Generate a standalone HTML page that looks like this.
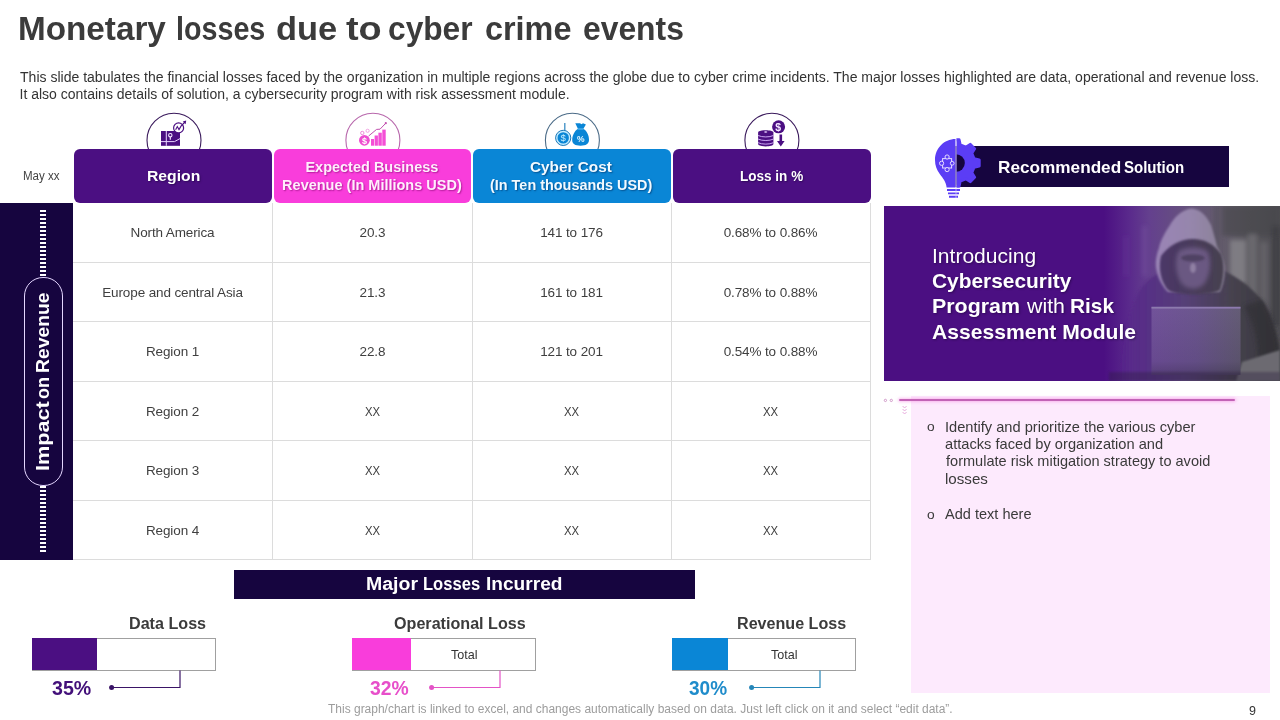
<!DOCTYPE html>
<html lang="en">
<head>
<meta charset="utf-8">
<title>Monetary losses due to cyber crime events</title>
<style>
*{margin:0;padding:0;box-sizing:border-box}
html,body{width:1280px;height:720px;overflow:hidden;background:#fff}
body{position:relative;font-family:"Liberation Sans",Arial,sans-serif;color:#3a3a3a}
.abs{position:absolute}
.t{position:absolute;white-space:nowrap;line-height:1;transform-origin:0 50%}
.c{position:absolute;white-space:nowrap;line-height:1;text-align:center;transform-origin:50% 50%}
#title{left:0;top:11px;width:700px;height:36px;font-size:32.5px;font-weight:700;color:#3b3b3b;line-height:36px}
.sub{font-size:14px;color:#333;line-height:16px;left:20px}
/* table */
.hd{position:absolute;top:149px;height:54px;border-radius:6px;color:#fff;font-weight:700;font-size:15.5px;text-align:center;text-shadow:1px 1px 2px rgba(0,0,0,.45)}
.hd span{position:absolute;left:0;right:0;white-space:nowrap;line-height:18px}
.vl{position:absolute;top:203px;height:357px;width:1px;background:#dcdcdc}
.hl{position:absolute;left:73px;width:798px;height:1px;background:#dcdcdc}

.cell{position:absolute;width:199px;text-align:center;font-size:13.5px;letter-spacing:-.12px;margin-top:1.3px;color:#3f3f3f;line-height:16px;white-space:nowrap}

.dash{background:repeating-linear-gradient(to bottom,#fff 0,#fff 2px,transparent 2px,transparent 4px)}
.intro{font-size:19.3px;color:#fff;text-shadow:1px 1px 2px rgba(20,0,40,.45)}
.bl{font-size:15px;color:#3a3a3a}
.bo{font-size:12px;color:#3a3a3a;transform:scaleX(1.15)}
.lt{font-size:16px;font-weight:700;color:#3b3b3b;top:616.06px}
.mj{font-size:18.3px;font-weight:700;color:#fff;top:575.21px}
.bar{position:absolute;top:638px;width:184px;height:32.6px;border:1px solid #a0a0a0;background:#fff}
.bar i{position:absolute;left:-1px;top:-.6px;bottom:-.6px;display:block}
.tot{font-size:12.2px;color:#333;top:649.3px;transform:scaleX(1.032)}
.pct{font-size:19.3px;font-weight:700;top:678.66px}
#title span{position:absolute;top:0;display:block;white-space:pre;transform-origin:0 50%}
.ht{font-size:14.5px;font-weight:700;color:#fff;text-shadow:1px 1px 1.5px rgba(30,0,60,.55)}
.hp{color:#ffeefc;text-shadow:1px 1px 1.5px rgba(120,0,100,.55)}
.hb{color:#f2faff;text-shadow:1px 1px 1.5px rgba(0,40,90,.55)}
#side span{position:absolute;top:0;display:block;white-space:pre;transform-origin:0 50%}
</style>
</head>
<body>
<div id="title" class="t"><span style="left:18.05px;transform:scaleX(1.0232)">Monetary </span><span style="left:176.1px;transform:scaleX(.8827)">losses </span><span style="left:275.84px;transform:scaleX(1.0589)">due </span><span style="left:345.9px;transform:scaleX(1.1655)">to </span><span style="left:388.3px;transform:scaleX(.9753)">cyber </span><span style="left:485.1px;transform:scaleX(.9965)">crime </span><span style="left:583.4px;transform:scaleX(.9792)">events</span></div>
<div class="t sub" id="s1" style="top:69px;left:20.3px;transform:scaleX(1.0023)">This slide tabulates the financial losses faced by the organization in multiple regions across the globe due to cyber crime incidents. The major losses highlighted are data, operational and revenue loss.</div>
<div class="t sub" id="s2" style="top:85.5px;left:19.5px">It also contains details of solution, a cybersecurity program with risk assessment module.</div>

<!-- icon rings -->
<svg class="abs" style="left:140px;top:108px" width="670" height="60" viewBox="140 108 670 60">
<g fill="#fff" stroke-width="1.1">
<circle cx="174" cy="140.3" r="27" stroke="#3a1a5c"/>
<circle cx="372.9" cy="140.3" r="27" stroke="#b868ac"/>
<circle cx="572.4" cy="140.3" r="27" stroke="#4c6c88"/>
<circle cx="771.9" cy="140.3" r="27" stroke="#3a1a5c"/>
</g>
<!-- icon 1: map + pin + trend -->
<g>
<rect x="161" y="131" width="19" height="14.8" fill="#4b0f82"/>
<path d="M166.3 131V145.8M161 141.6H174.5L180 138.6" fill="none" stroke="#e9d4ff" stroke-width="1"/>
<circle cx="170.3" cy="135.2" r="1.7" fill="none" stroke="#f3e6ff" stroke-width="1.1"/>
<path d="M170.3 137V139.8" stroke="#f3e6ff" stroke-width="1.2"/>
<circle cx="178.6" cy="127.9" r="5" fill="#fff" stroke="#4b0f82" stroke-width="1.2"/>
<path d="M175.6 129.8L177.3 126.6L179 129.6L181 126.2L185 122" fill="none" stroke="#4b0f82" stroke-width="1.1"/>
<path d="M186.2 120.6L185.6 124.2L182.8 121.4Z" fill="#4b0f82"/>
</g>
<!-- icon 2: coin + bars + trend -->
<g>
<circle cx="364.4" cy="140.3" r="5.4" fill="#ee4fd0"/>
<text x="364.4" y="143.6" font-family="Liberation Sans,sans-serif" font-size="9" font-weight="700" fill="#fff" text-anchor="middle">$</text>
<circle cx="362.3" cy="133" r="1.7" fill="none" stroke="#ee7fd8" stroke-width=".9"/>
<circle cx="367.6" cy="130.8" r="1.6" fill="none" stroke="#f29be0" stroke-width=".9"/>
<g fill="#f44fd6"><rect x="371" y="139" width="3" height="6.7"/><rect x="374.6" y="135.5" width="3.3" height="10.2"/><rect x="378.4" y="132.7" width="3.4" height="13"/><rect x="382.3" y="129.6" width="3.4" height="16.1"/></g>
<path d="M368.6 136L376.6 129.4L380 129.2L385.6 123.4" fill="none" stroke="#c24fae" stroke-width="1"/>
<circle cx="385.8" cy="123.2" r="1.1" fill="#c24fae"/>
</g>
<!-- icon 3: coin + money bag -->
<g>
<circle cx="563.2" cy="137.9" r="7.6" fill="#c4ecff" stroke="#1a78b8" stroke-width="1"/>
<circle cx="563.2" cy="137.9" r="5.7" fill="#0a86d6"/>
<text x="563.2" y="141.4" font-family="Liberation Sans,sans-serif" font-size="9.5" fill="#c8f0ff" text-anchor="middle">$</text>
<path d="M564.8 123V130.2" stroke="#3a8cc4" stroke-width="1.3"/>
<path d="M575.3 123.3H580L581.5 124.2L583 123.3L585.9 124.4L583.4 128.8C587 131 589.2 136 589 140C588.8 144 586 145.7 580.6 145.7C575 145.7 572.2 144 572.2 140C572.2 136 574.4 131 577.9 128.8Z" fill="#0a86d6"/>
<path d="M577.6 129H583.6" stroke="#7fd0ff" stroke-width=".8"/>
<text x="580.8" y="141.6" font-family="Liberation Sans,sans-serif" font-size="8.5" font-weight="700" fill="#e8f8ff" text-anchor="middle">%</text>
</g>
<!-- icon 4: coin stack + dollar + down arrow -->
<g fill="#4b0f82">
<path d="M758.1 132.4C758.1 129.4 773.4 129.4 773.4 132.4V144C773.4 147.2 758.1 147.2 758.1 144Z"/>
<path d="M758.1 135.5C762 137.4 769.5 137.4 773.4 135.5M758.1 139.1C762 141 769.5 141 773.4 139.1M758.1 142.7C762 144.6 769.5 144.6 773.4 142.7" fill="none" stroke="#d9b8ff" stroke-width=".9"/>
<ellipse cx="765.7" cy="132" rx="1.6" ry=".7" fill="#e9d4ff"/>
<circle cx="778.6" cy="126.8" r="6.5"/>
<text x="778.2" y="130.6" font-family="Liberation Sans,sans-serif" font-size="10.5" font-weight="700" fill="#f3e6ff" text-anchor="middle">$</text>
<path d="M779.5 134.4H782.1V141H784.6L780.8 146.6L777 141H779.5Z"/>
</g>
</svg>

<!-- left dark bar -->
<div class="abs" id="lbar" style="left:0;top:203px;width:73px;height:356.7px;background:#16053f"></div>

<!-- table grid -->
<div class="abs" style="left:73px;top:203px;width:798px;height:357px;background:#fff"></div>
<div class="vl" style="left:272px"></div><div class="vl" style="left:472px"></div><div class="vl" style="left:671px"></div><div class="vl" style="left:870px"></div>
<div class="hl" style="top:262px"></div><div class="hl" style="top:321px"></div><div class="hl" style="top:381px"></div><div class="hl" style="top:440px"></div><div class="hl" style="top:500px"></div><div class="hl" style="top:559px"></div>

<!-- headers -->
<div class="hd" style="left:74px;width:198px;background:#4b0f82"></div>
<div class="hd" style="left:274px;width:197px;background:#f93ddb"></div>
<div class="hd" style="left:473px;width:198px;background:#0a86d6"></div>
<div class="hd" style="left:673px;width:198px;background:#4b0f82"></div>
<div class="t ht" style="left:146.66px;top:168.6px;transform:scaleX(1.0851)">Region</div>
<div class="t ht hp" style="left:305.4px;top:159.5px">Expected Business</div>
<div class="t ht hp" style="left:282.1px;top:177.7px">Revenue (In Millions USD)</div>
<div class="t ht hb" style="left:530.44px;top:159.5px;transform:scaleX(1.0579)">Cyber Cost</div>
<div class="t ht hb" style="left:490px;top:177.7px;transform:scaleX(.9944)">(In Ten thousands USD)</div>
<div class="t ht" style="left:739.57px;top:168.6px;transform:scaleX(.9333)">Loss in %</div>

<div class="cell" style="left:73px;top:224.0px">North America</div>
<div class="cell" style="left:273px;top:224.0px">20.3</div>
<div class="cell" style="left:472px;top:224.0px">141 to 176</div>
<div class="cell" style="left:671px;top:224.0px">0.68% to 0.86%</div>
<div class="cell" style="left:73px;top:283.5px">Europe and central Asia</div>
<div class="cell" style="left:273px;top:283.5px">21.3</div>
<div class="cell" style="left:472px;top:283.5px">161 to 181</div>
<div class="cell" style="left:671px;top:283.5px">0.78% to 0.88%</div>
<div class="cell" style="left:73px;top:343.0px">Region 1</div>
<div class="cell" style="left:273px;top:343.0px">22.8</div>
<div class="cell" style="left:472px;top:343.0px">121 to 201</div>
<div class="cell" style="left:671px;top:343.0px">0.54% to 0.88%</div>
<div class="cell" style="left:73px;top:402.5px">Region 2</div>
<div class="cell" style="left:273px;top:402.5px;transform:scaleX(.84)">XX</div>
<div class="cell" style="left:472px;top:402.5px;transform:scaleX(.84)">XX</div>
<div class="cell" style="left:671px;top:402.5px;transform:scaleX(.84)">XX</div>
<div class="cell" style="left:73px;top:462.0px">Region 3</div>
<div class="cell" style="left:273px;top:462.0px;transform:scaleX(.84)">XX</div>
<div class="cell" style="left:472px;top:462.0px;transform:scaleX(.84)">XX</div>
<div class="cell" style="left:671px;top:462.0px;transform:scaleX(.84)">XX</div>
<div class="cell" style="left:73px;top:521.5px">Region 4</div>
<div class="cell" style="left:273px;top:521.5px;transform:scaleX(.84)">XX</div>
<div class="cell" style="left:472px;top:521.5px;transform:scaleX(.84)">XX</div>
<div class="cell" style="left:671px;top:521.5px;transform:scaleX(.84)">XX</div>
<!-- side label -->
<div class="abs" style="left:24px;top:276.5px;width:38.5px;height:209.5px;border:1.2px solid #e4d6ff;border-radius:19px"></div>
<div class="abs dash" style="left:40px;top:210px;width:6px;height:66px"></div>
<div class="abs dash" style="left:40px;top:486px;width:6px;height:66px"></div>
<div class="abs" id="side" style="left:32.7px;top:470px;width:180px;height:20px;transform-origin:0 0;transform:rotate(-90deg);font-size:19px;font-weight:700;color:#fff;line-height:20px;white-space:nowrap"><span style="left:-1.14px;transform:scaleX(1.1383)">Impact </span><span style="left:70.75px;transform:scaleX(.9524)">on </span><span style="left:97.28px;transform:scaleX(1.0179)">Revenue</span></div>

<!-- recommended solution -->
<div class="abs" style="left:955px;top:146px;width:274px;height:40.5px;background:#16053f"></div>
<div class="t w" style="left:997.67px;top:159.5px;font-size:16.7px;font-weight:700;color:#fff;transform:scaleX(1.0297)">Recommended</div>
<div class="t w" style="left:1123.7px;top:159.5px;font-size:16.7px;font-weight:700;color:#fff;transform:scaleX(.9)">Solution</div>

<!-- bulb + gear icon -->
<svg class="abs" style="left:930px;top:134px" width="56" height="68" viewBox="930 134 56 68">
<defs><clipPath id="rh"><rect x="956.4" y="130" width="40" height="70"/></clipPath></defs>
<g clip-path="url(#rh)"><path d="M951.8 144.9 L952.9 139.8 L959.1 139.8 L960.2 144.9 L965.8 147.2 L970.2 144.4 L974.6 148.8 L971.8 153.2 L974.1 158.8 L979.2 159.9 L979.2 166.1 L974.1 167.2 L971.8 172.8 L974.6 177.2 L970.2 181.6 L965.8 178.8 L960.2 181.1 L959.1 186.2 L952.9 186.2 L951.8 181.1 L946.2 178.8 L941.8 181.6 L937.4 177.2 L940.2 172.8 L937.9 167.2 L932.8 166.1 L932.8 159.9 L937.9 158.8 L940.2 153.2 L937.4 148.8 L941.8 144.4 L946.2 147.2Z" fill="#5b3df5" stroke="#5b3df5" stroke-width="3" stroke-linejoin="round"/>
<circle cx="956" cy="163" r="8.8" fill="#16053f"/></g>
<path d="M955.6 139C944 139 935 148.4 935 160C935 165.4 936.8 170 939.6 173.8C943 178.4 946.2 182 946.6 187.6H955.6Z" fill="#5b3df5"/>
<path d="M956 139.5V187.6" stroke="#d9cdfb" stroke-width=".9"/>
<g stroke="#5b3df5" stroke-width="1.9"><path d="M947 190H960M948 193.4H959M949 196.8H958"/></g>
<path d="M956 188.5V198" stroke="#d9cdfb" stroke-width=".7"/>
<g fill="none" stroke="#e6dcff" stroke-width="1">
<rect x="942.6" y="158.6" width="9" height="9.4"/><g fill="#5b3df5"><circle cx="947.1" cy="157" r="2.1"/><circle cx="941.6" cy="163.3" r="2.1"/><circle cx="947.1" cy="169.6" r="2.1"/><circle cx="952.2" cy="163.3" r="1.9"/></g>
</g>
</svg>

<!-- photo panel -->
<svg class="abs" id="photo" style="left:884px;top:206px" width="396" height="175" viewBox="0 0 396 175">
<defs>
<linearGradient id="pbg" x1="0" x2="1" y1="0" y2="0"><stop offset="0" stop-color="#4b0f82"/><stop offset=".555" stop-color="#4b0f82"/><stop offset=".62" stop-color="#5a2a8c"/><stop offset=".67" stop-color="#64408e"/><stop offset=".78" stop-color="#66557a"/><stop offset=".86" stop-color="#625b6a"/><stop offset=".92" stop-color="#58565c"/><stop offset="1" stop-color="#4e4d52"/></linearGradient>
<linearGradient id="hood" x1="0" x2="1" y1="0" y2="0"><stop offset="0" stop-color="#9a84b6"/><stop offset=".5" stop-color="#9686ac"/><stop offset="1" stop-color="#8a8296"/></linearGradient>
<linearGradient id="hin" x1="0" x2="1" y1="0" y2="0"><stop offset="0" stop-color="#4c3768"/><stop offset="1" stop-color="#46404f"/></linearGradient>
<linearGradient id="body" x1="0" x2="1" y1="0" y2="0"><stop offset="0" stop-color="#552788" stop-opacity=".0"/><stop offset=".12" stop-color="#582c88"/><stop offset=".4" stop-color="#564078"/><stop offset=".7" stop-color="#46424e"/><stop offset="1" stop-color="#38363c"/></linearGradient>
<linearGradient id="lap" x1="0" x2="1" y1="0" y2="0"><stop offset="0" stop-color="#6c4c96"/><stop offset=".5" stop-color="#66508a"/><stop offset="1" stop-color="#5e5670"/></linearGradient>
<linearGradient id="lapf" x1="0" x2="0" y1="0" y2="1"><stop offset="0" stop-color="#fff" stop-opacity=".04"/><stop offset=".8" stop-color="#000" stop-opacity=".04"/><stop offset="1" stop-color="#000" stop-opacity=".2"/></linearGradient>
<filter id="b1" x="-20%" y="-20%" width="140%" height="140%"><feGaussianBlur stdDeviation="1"/></filter>
<filter id="b2" x="-30%" y="-30%" width="160%" height="160%"><feGaussianBlur stdDeviation="2"/></filter>
<filter id="b3" x="-30%" y="-30%" width="160%" height="160%"><feGaussianBlur stdDeviation="3.5"/></filter>
</defs>
<rect width="396" height="175" fill="url(#pbg)"/>
<g filter="url(#b2)">
<rect x="338" y="0" width="58" height="30" fill="#444248" opacity=".55"/>
<rect x="346" y="34" width="16" height="44" fill="#8a888e" opacity=".75"/><rect x="364" y="28" width="9" height="66" fill="#77757c" opacity=".6"/><rect x="376" y="36" width="8" height="70" fill="#6c6a72" opacity=".6"/><rect x="388" y="20" width="8" height="100" fill="#38373c" opacity=".6"/><rect x="330" y="0" width="5" height="50" fill="#4a4850" opacity=".4"/><rect x="258" y="20" width="5" height="50" fill="#7a58a4" opacity=".35"/><rect x="240" y="30" width="4" height="40" fill="#6a3c9c" opacity=".35"/>
</g>
<path filter="url(#b1)" d="M236 175C238 140 244 108 252 92C258 76 270 68 284 64L338 64C352 70 366 80 378 94C388 108 394 130 396 150V175Z" fill="url(#body)"/>
<path filter="url(#b2)" d="M378 94C388 108 394 130 396 150V175H372C378 150 372 120 360 100Z" fill="#2f2e33" opacity=".6"/>
<path filter="url(#b1)" d="M307.4 2.5C297 4 290 12 286 19C280 28 276 36 275 42C272 50 271 58 272.5 64C274 72 278 80 284 86L336 86C340 78 342 66 340 57C338 50 336 46 333 40C331 32 329 26 327 19C322 9 316 3 307.4 2.5Z" fill="url(#hood)"/>
<path filter="url(#b1)" d="M277 50C284 40 296 33 309 33C320 33 330 38 337 48C341 58 340 72 336 84C326 90 292 90 284 84C277 76 274 62 277 50Z" fill="url(#hin)"/>
<path filter="url(#b2)" d="M294 46C300 40 318 40 324 46C328 56 326 70 320 78C314 84 304 84 298 78C292 70 290 56 294 46Z" fill="#6a5882"/>
<ellipse filter="url(#b1)" cx="309" cy="52" rx="12" ry="3.5" fill="#4a3c5c" opacity=".8"/>
<ellipse filter="url(#b1)" cx="309" cy="62" rx="3" ry="5" fill="#9a8aac" opacity=".8"/>
<path filter="url(#b1)" d="M352 175L358 156L396 144V175Z" fill="#6c6a71"/>
<rect x="267.5" y="100.8" width="89" height="68" fill="url(#lap)"/>
<rect x="267.5" y="100.8" width="89" height="68" fill="url(#lapf)"/>
<rect x="267.5" y="100.8" width="89" height="1.8" fill="#8d7aae"/>
<rect x="225" y="166" width="171" height="9" fill="#2a1a3c" opacity=".35" filter="url(#b1)"/>
</svg>
<div class="t intro" style="left:931.82px;top:246.6px;transform:scaleX(1.0913)">Introducing</div>
<div class="t intro" style="left:932.42px;top:271.9px;transform:scaleX(1.0827)"><b>Cybersecurity</b></div>
<div class="t intro" style="left:932.39px;top:297.3px;transform:scaleX(1.1104)"><b>Program</b></div>
<div class="t intro" style="left:1026.9px;top:297.3px;transform:scaleX(1.1061)">with</div>
<div class="t intro" style="left:1069.92px;top:297.3px;transform:scaleX(1.0795)"><b>Risk</b></div>
<div class="t intro" style="left:932.01px;top:322.9px;transform:scaleX(1.0946)"><b>Assessment Module</b></div>

<!-- pink panel -->
<div class="abs" style="left:911px;top:395.5px;width:359px;height:297px;background:#fdeafd"></div>
<div class="abs" style="left:898.5px;top:399px;width:336px;height:2.2px;border-radius:1px;background:#c263b6;box-shadow:0 0 3px 1px rgba(248,130,228,.5)"></div>
<svg class="abs" style="left:880px;top:395px" width="32" height="24" viewBox="880 395 32 24"><g fill="none" stroke="#dc8ed0" stroke-width="1"><circle cx="885.4" cy="400.4" r="1.15" stroke="#d29aca"/><circle cx="891.3" cy="400.4" r="1.15" stroke="#d29aca"/><path d="M902.6 406L904.6 408L906.6 406M902.6 409L904.6 411L906.6 409M902.6 412L904.6 414L906.6 412" stroke="#e4a4da" stroke-width=".9"/></g></svg>
<div class="t bo" style="left:927.1px;top:421.44px">o</div>
<div class="t bl" style="left:944.72px;top:418.9px;transform:scaleX(.9754)">Identify and prioritize the various cyber</div>
<div class="t bl" style="left:944.72px;top:436.1px;transform:scaleX(.9761)">attacks faced by organization and</div>
<div class="t bl" style="left:945.7px;top:453.4px;transform:scaleX(.9695)">formulate risk mitigation strategy to avoid</div>
<div class="t bl" style="left:944.69px;top:471.2px;transform:scaleX(1.0098)">losses</div>
<div class="t bo" style="left:927.1px;top:508.54px">o</div>
<div class="t bl" style="left:945.2px;top:506px;transform:scaleX(.9697)">Add text here</div>

<!-- major losses -->
<div class="abs" style="left:234px;top:570.4px;width:460.7px;height:28.4px;background:#16053f"></div>
<div class="t mj" style="left:366.33px;transform:scaleX(1.0667)">Major</div>
<div class="t mj" style="left:422.79px;transform:scaleX(.9066)">Losses</div>
<div class="t mj" style="left:485.85px;transform:scaleX(1.0451)">Incurred</div>

<div class="t lt" style="left:128.69px;transform:scaleX(1.008)">Data Loss</div>
<div class="t lt" style="left:394.29px;transform:scaleX(1.0078)">Operational Loss</div>
<div class="t lt" style="left:736.59px;transform:scaleX(1.0065)">Revenue Loss</div>

<div class="bar" style="left:32px"><i style="width:64.7px;background:#4b0f82"></i></div>
<div class="bar" style="left:352px"><i style="width:59.2px;background:#f93ddb"></i></div>
<div class="bar" style="left:672px"><i style="width:56.2px;background:#0a86d6"></i></div>
<div class="t tot" style="left:450.7px">Total</div>
<div class="t tot" style="left:770.7px">Total</div>

<div class="t pct" style="left:52.48px;color:#43107a;transform:scaleX(1.0162)">35%</div>
<div class="t pct" style="left:369.9px;color:#e74fca;transform:scaleX(1.0027)">32%</div>
<div class="t pct" style="left:689.11px;color:#1f8ccb;transform:scaleX(.9865)">30%</div>

<svg class="abs" style="left:0;top:660px" width="900" height="40" viewBox="0 660 900 40">
<g fill="none" stroke-width="1.2">
<path d="M111.6 687.5H180V670.5" stroke="#3a1466"/><circle cx="111.6" cy="687.5" r="2.5" fill="#3a1466" stroke="none"/>
<path d="M431.6 687.5H500V670.5" stroke="#e353c6"/><circle cx="431.6" cy="687.5" r="2.5" fill="#e353c6" stroke="none"/>
<path d="M751.6 687.5H820V670.5" stroke="#2586b8"/><circle cx="751.6" cy="687.5" r="2.5" fill="#2586b8" stroke="none"/>
</g></svg>

<div class="t" id="foot" style="left:328px;top:702.84px;font-size:12px;color:#9c9c9c;transform:scaleX(.9984)">This graph/chart is linked to excel, and changes automatically based on data. Just left click on it and select “edit data”.</div>
<div class="t" style="left:1249px;top:704.6px;font-size:12.5px;color:#333">9</div>

<div class="t" style="left:22.6px;top:169.54px;font-size:12px;color:#444;transform:scaleX(.962)">May xx</div>
</body>
</html>
